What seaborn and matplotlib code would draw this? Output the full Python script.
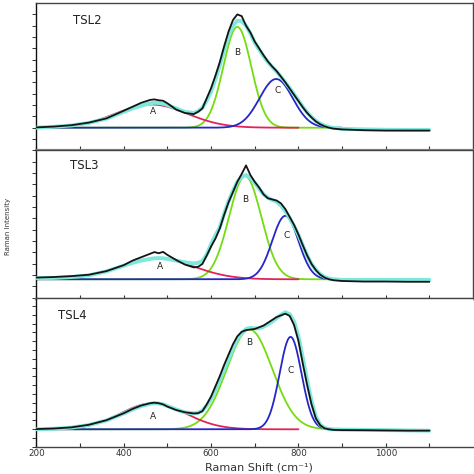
import numpy as np
import matplotlib
matplotlib.use("Agg")
import matplotlib.pyplot as plt
import seaborn as sns

sns.set_theme(style="white")
plt.rcParams["font.family"] = ["DejaVu Sans"]

# ---------------- data ----------------
X_GRID = [200, 240, 280, 320, 360, 400, 420, 440, 460, 470, 480, 490, 500, 520, 540,
          560, 570, 580, 590, 600, 610, 620, 630, 640, 650, 660, 670, 680, 690, 700,
          710, 720, 730, 740, 750, 760, 770, 780, 790, 800, 810, 820, 830, 840, 850,
          860, 870, 880, 900, 950, 1000, 1050, 1100]

TSL2_FIT = [0.0, 0.08, 0.2, 0.42, 0.8, 1.4, 1.7, 1.95, 2.15, 2.2, 2.18, 2.12, 2.0, 1.7, 1.4,
            1.3, 1.45, 1.75, 2.4, 3.2, 4.3, 5.5, 6.9, 8.1, 9.0, 9.45, 9.4, 9.0, 8.3, 7.5,
            6.9, 6.3, 5.8, 5.35, 4.95, 4.5, 4.0, 3.5, 2.95, 2.4, 1.85, 1.35, 0.95, 0.6, 0.35,
            0.18, 0.06, -0.02, -0.1, -0.15, -0.18, -0.2, -0.2]
TSL2_RAW = [0.03, 0.1, 0.22, 0.45, 0.82, 1.5, 1.85, 2.2, 2.45, 2.5, 2.42, 2.38, 2.15, 1.6, 1.3,
            1.2, 1.4, 1.7, 2.6, 3.5, 4.6, 5.8, 7.2, 8.5, 9.5, 10.0, 9.85, 9.0, 8.4, 7.6,
            7.0, 6.4, 5.85, 5.4, 5.0, 4.5, 4.0, 3.45, 2.9, 2.35, 1.8, 1.3, 0.9, 0.55, 0.3,
            0.12, 0.0, -0.08, -0.15, -0.22, -0.25, -0.25, -0.25]

TSL3_FIT = [0.1, 0.12, 0.2, 0.35, 0.7, 1.2, 1.45, 1.65, 1.8, 1.85, 1.87, 1.85, 1.8, 1.65, 1.5,
            1.4, 1.45, 1.6, 2.2, 3.1, 3.9, 4.6, 5.8, 6.9, 7.8, 8.6, 9.05, 9.2, 8.95, 8.5,
            8.0, 7.5, 7.2, 7.0, 6.85, 6.5, 6.0, 5.4, 4.7, 3.9, 3.0, 2.1, 1.35, 0.85, 0.45,
            0.2, 0.07, 0.0, -0.05, -0.05, -0.05, -0.05, -0.05]
TSL3_RAW = [0.15, 0.2, 0.28, 0.4, 0.72, 1.25, 1.65, 1.95, 2.25, 2.4, 2.3, 2.42, 2.15, 1.7, 1.3,
            1.05, 1.1, 1.35, 2.1, 2.9, 3.6, 4.5, 5.7, 6.8, 7.7, 8.6, 9.3, 10.05, 9.2, 8.6,
            8.1, 7.5, 7.15, 7.05, 6.95, 6.7, 6.2, 5.5, 4.8, 3.95, 3.0, 2.1, 1.35, 0.8, 0.4,
            0.15, 0.0, -0.08, -0.15, -0.2, -0.2, -0.22, -0.22]

TSL4_FIT = [0.0, 0.05, 0.15, 0.38, 0.78, 1.4, 1.75, 2.05, 2.25, 2.3, 2.28, 2.2, 2.05, 1.75, 1.5,
            1.4, 1.45, 1.65, 2.1, 2.7, 3.5, 4.4, 5.3, 6.2, 7.1, 7.95, 8.5, 8.85, 8.95, 8.9,
            8.9, 9.05, 9.25, 9.5, 9.8, 10.1, 10.33, 10.15, 9.5, 8.2, 6.3, 4.3, 2.5, 1.1, 0.4,
            0.12, 0.03, 0.0, -0.03, -0.05, -0.07, -0.1, -0.12]
TSL4_RAW = [0.02, 0.07, 0.17, 0.4, 0.8, 1.42, 1.8, 2.1, 2.3, 2.35, 2.3, 2.2, 2.0, 1.7, 1.5,
            1.4, 1.42, 1.6, 2.2, 2.9, 3.8, 4.7, 5.7, 6.6, 7.5, 8.2, 8.6, 8.75, 8.8, 8.85,
            9.0, 9.15, 9.4, 9.65, 9.9, 10.05, 10.2, 10.0, 9.2, 7.8, 5.8, 3.9, 2.2, 0.95, 0.35,
            0.08, 0.0, -0.05, -0.07, -0.08, -0.1, -0.12, -0.12]

# fitted components A, B, C : centre (cm-1), height, width (sigma, cm-1)
TSL2_CENTERS = [463, 660, 749]
TSL2_HEIGHTS = [2.05, 8.9, 4.3]
TSL2_WIDTHS = [82, 32, 38]

TSL3_CENTERS = [475, 678, 770]
TSL3_HEIGHTS = [1.85, 9.1, 5.6]
TSL3_WIDTHS = [85, 37, 30]

TSL4_CENTERS = [467, 688, 782]
TSL4_HEIGHTS = [2.3, 8.8, 8.15]
TSL4_WIDTHS = [75, 52, 25]

SAMPLES = ["TSL2", "TSL3", "TSL4"]
PEAK_NAMES = ["A", "B", "C"]

# label positions (x in cm-1, y in intensity units)
LABEL_X = {"TSL2": [467, 659, 753], "TSL3": [482, 677, 773], "TSL4": [467, 688, 783]}
LABEL_Y = {"TSL2": [1.4, 6.6, 3.3], "TSL3": [1.1, 7.0, 3.85], "TSL4": [1.1, 7.7, 5.2]}
TITLE_XY = {"TSL2": (283, 9.5), "TSL3": (277, 10.0), "TSL4": (249, 10.0)}

FITS = {"TSL2": TSL2_FIT, "TSL3": TSL3_FIT, "TSL4": TSL4_FIT}
RAWS = {"TSL2": TSL2_RAW, "TSL3": TSL3_RAW, "TSL4": TSL4_RAW}
PARAMS = {"TSL2": (TSL2_CENTERS, TSL2_HEIGHTS, TSL2_WIDTHS),
          "TSL3": (TSL3_CENTERS, TSL3_HEIGHTS, TSL3_WIDTHS),
          "TSL4": (TSL4_CENTERS, TSL4_HEIGHTS, TSL4_WIDTHS)}

# ---------------- styling ----------------
C_RAW = "#141414"
C_FIT = "#7ee8dc"
C_COMP = {"A": "#e0245a", "B": "#74dc10", "C": "#2626c8"}
COMP_END = {"A": 800, "B": 868, "C": 900}
ORDER = ["B", "A", "C"]  # drawing order (blue on top of baseline)

YLIMS = {"TSL2": (-1.97, 11.05), "TSL3": (-1.74, 11.41), "TSL4": (-1.56, 11.54)}
YTICKS = {"TSL2": [k for k in range(-1, 11)],
          "TSL3": [0.38 + k for k in range(-2, 12)],
          "TSL4": [0.777 * k for k in range(-2, 15)]}

fig = plt.figure(figsize=(4.74, 4.74), dpi=100)
positions = [(0.077, 0.6835, 0.921, 0.3112),
             (0.077, 0.3692, 0.921, 0.3143),
             (0.077, 0.0570, 0.921, 0.3133)]

for i, name in enumerate(SAMPLES):
    ax = fig.add_axes(positions[i])
    centers, heights, widths = PARAMS[name]
    for pk in ORDER:
        j = PEAK_NAMES.index(pk)
        xs = np.linspace(200, COMP_END[pk], 500)
        ys = heights[j] * np.exp(-(xs - centers[j]) ** 2 / (2 * widths[j] ** 2))
        sns.lineplot(x=xs, y=ys, ax=ax, color=C_COMP[pk], lw=1.3,
                     sort=False, estimator=None, zorder=2)
    sns.lineplot(x=X_GRID, y=FITS[name], ax=ax, color=C_FIT, lw=2.8,
                 sort=False, estimator=None, zorder=3)
    sns.lineplot(x=X_GRID, y=RAWS[name], ax=ax, color=C_RAW, lw=1.3,
                 sort=False, estimator=None, zorder=4)

    for j, pk in enumerate(PEAK_NAMES):
        ax.text(LABEL_X[name][j], LABEL_Y[name][j], pk, fontsize=6.5,
                ha="center", va="center", color="#222222", zorder=5)
    tx, ty = TITLE_XY[name]
    ax.text(tx, ty, name, fontsize=8.5, ha="left", va="center", color="#222222")

    ax.set_xlim(200, 1200)
    ax.set_ylim(*YLIMS[name])
    ax.set_xticks([200, 400, 600, 800, 1000])
    ax.set_xticks([300, 500, 700, 900, 1100], minor=True)
    ax.set_yticks(YTICKS[name])
    ax.tick_params(axis="x", which="both", direction="in", length=3, width=0.8,
                   bottom=True, top=False, color="#333333", labelsize=6.3, pad=1.5)
    ax.tick_params(axis="y", which="both", direction="out", length=3, width=0.7,
                   left=True, right=False, labelleft=False, color="#333333")
    ax.set_xlabel("")
    ax.set_ylabel("")
    for side in ["left", "right", "top", "bottom"]:
        ax.spines[side].set_color("#444444")
        ax.spines[side].set_linewidth(1.0)
    ax.spines["left"].set_color("#111111")
    if i < 2:
        ax.tick_params(axis="x", labelbottom=False)
        ax.spines["bottom"].set_color("#8a8a8a")
        ax.spines["bottom"].set_linewidth(1.6)
    else:
        ax.spines["right"].set_visible(False)
        for lab in ax.get_xticklabels():
            lab.set_color("#333333")

fig.text(0.546, 0.004, "Raman Shift (cm\u207b\u00b9)", ha="center", va="bottom",
         fontsize=8, color="#333333")
fig.text(0.017, 0.523, "Raman Intensity", rotation=90, ha="center", va="center",
         fontsize=5, color="#333333")

fig.savefig("out.png", dpi=100)
